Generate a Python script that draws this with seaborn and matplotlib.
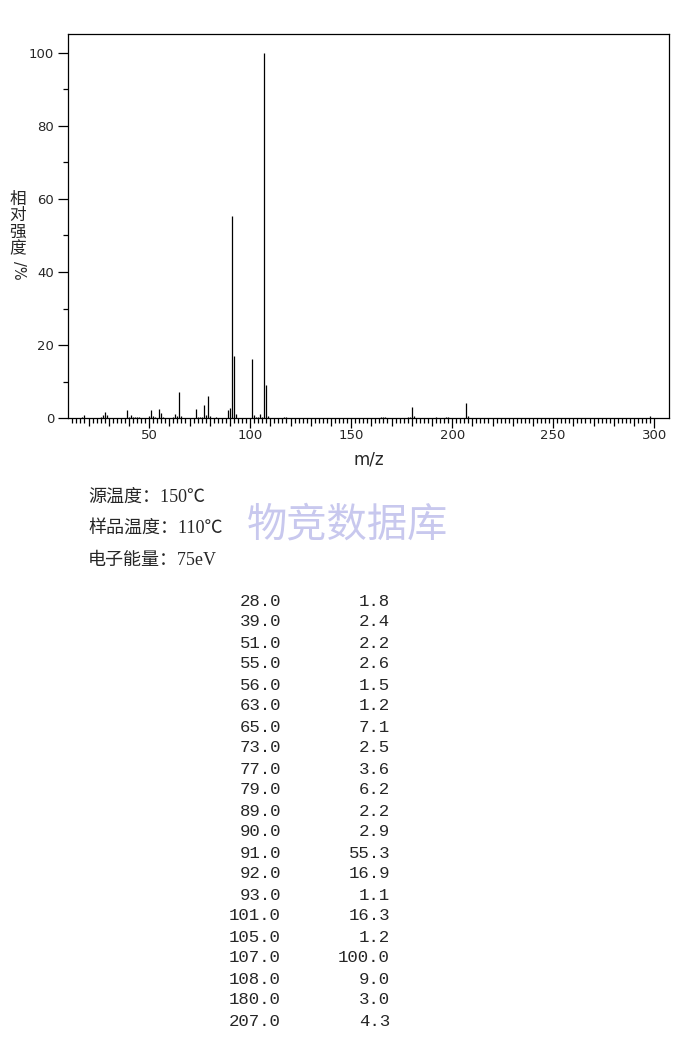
import numpy as np
import matplotlib
matplotlib.use("Agg")
import matplotlib.pyplot as plt
import seaborn as sns

# Main peaks (listed in the table)
mz = [28, 39, 51, 55, 56, 63, 65, 73, 77, 79, 89, 90, 91, 92, 93,
      101, 105, 107, 108, 180, 207]
intensity = [1.8, 2.4, 2.2, 2.6, 1.5, 1.2, 7.1, 2.5, 3.6, 6.2, 2.2, 2.9, 55.3,
             16.9, 1.1, 16.3, 1.2, 100.0, 9.0, 3.0, 4.3]

# Minor peaks (read off the spectrum, not in the table)
minor_mz = [17, 18, 26, 27, 29, 40, 41, 42, 43, 44, 45, 50, 52, 53, 57,
            62, 64, 66, 74, 75, 76, 78, 80, 83, 102, 103, 104, 106, 109,
            117, 118, 165, 166, 167, 178, 179, 181, 192, 197, 198, 208, 298]
minor_int = [0.3, 0.9, 0.3, 0.9, 1.0, 0.4, 1.0, 0.4, 0.4, 0.4, 0.4, 0.7, 0.7, 0.4, 0.3,
             0.4, 0.6, 0.6, 0.4, 0.4, 0.4, 0.9, 0.6, 0.3, 0.9, 0.4, 0.4, 0.4, 0.6,
             0.3, 0.3, 0.4, 0.4, 0.4, 0.4, 0.4, 0.6, 0.4, 0.4, 0.4, 0.6, 0.6]

conditions = ["源温度：150℃", "样品温度：110℃", "电子能量：75eV"]
watermark = "物竞数据库"

sns.set_theme(style="ticks")
plt.rcParams['font.family'] = ['DejaVu Sans', 'Noto Sans CJK SC']

fig = plt.figure(figsize=(6.96, 10.49), dpi=100)
ax = fig.add_axes([68.3 / 696, 1 - 418.3 / 1049, 601 / 696, 384 / 1049])

all_mz = np.array(mz + minor_mz)
all_int = np.array(intensity + minor_int)
ax.vlines(all_mz, 0, all_int, color="black", linewidth=0.9)

ax.set_xlim(10, 307.5)
ax.set_ylim(0, 105)

for s in ax.spines.values():
    s.set_color("black")
    s.set_linewidth(0.9)

# x ticks: minor every 2, medium every 10, long at 50s
major_x = np.arange(20, 301, 10)
ax.set_xticks(major_x)
ax.set_xticks(np.arange(12, 301, 2), minor=True)
ax.set_xticklabels([str(v) if v % 50 == 0 else "" for v in major_x])
ax.tick_params(axis="x", which="major", direction="out", length=5.5, width=0.9,
               color="black", labelsize=9.5, pad=2)
ax.tick_params(axis="x", which="minor", direction="out", length=3.6, width=0.9,
               color="black")
for t, v in zip(ax.xaxis.get_major_ticks(), major_x):
    if v % 50 == 0:
        t.tick1line.set_markersize(7.5)

ax.set_yticks(np.arange(0, 101, 20))
ax.set_yticks(np.arange(10, 100, 20), minor=True)
ax.tick_params(axis="y", which="major", direction="out", length=7.2, width=0.9,
               color="black", labelsize=9.5, pad=3)
ax.tick_params(axis="y", which="minor", direction="out", length=3.6, width=0.9,
               color="black")

ax.set_xlabel("m/z", fontsize=12, labelpad=6)

# vertical y label: upright CJK chars, rotated "/%"
fig.text(18 / 696, 1 - 224 / 1049, "相\n对\n强\n度", ha="center", va="center",
         fontsize=12, family=['Noto Sans CJK SC'], linespacing=0.97)
fig.text(18 / 696, 1 - 270 / 1049, "/%", ha="center", va="center",
         fontsize=10.5, rotation=270, family=['DejaVu Sans'])

# experimental conditions
for i, line in enumerate(conditions):
    fig.text(88 / 696, 1 - (497 + 31.5 * i) / 1049, line, ha="left", va="center",
             fontsize=13, family=['Liberation Serif', 'Noto Sans CJK SC'])

fig.text(347 / 696, 1 - 525 / 1049, watermark, ha="center", va="center",
         fontsize=29, color="#c8c8ee", family=['Noto Sans CJK SC'])

# peak table
for i, (m, v) in enumerate(zip(mz, intensity)):
    y = 1 - (601 + 21 * i) / 1049
    fig.text(281 / 696, y, f"{m:.1f}", ha="right", va="center",
             fontsize=12.5, family=['Liberation Mono'])
    fig.text(390 / 696, y, f"{v:.1f}", ha="right", va="center",
             fontsize=12.5, family=['Liberation Mono'])

fig.savefig("out.png", dpi=100, facecolor="white")
